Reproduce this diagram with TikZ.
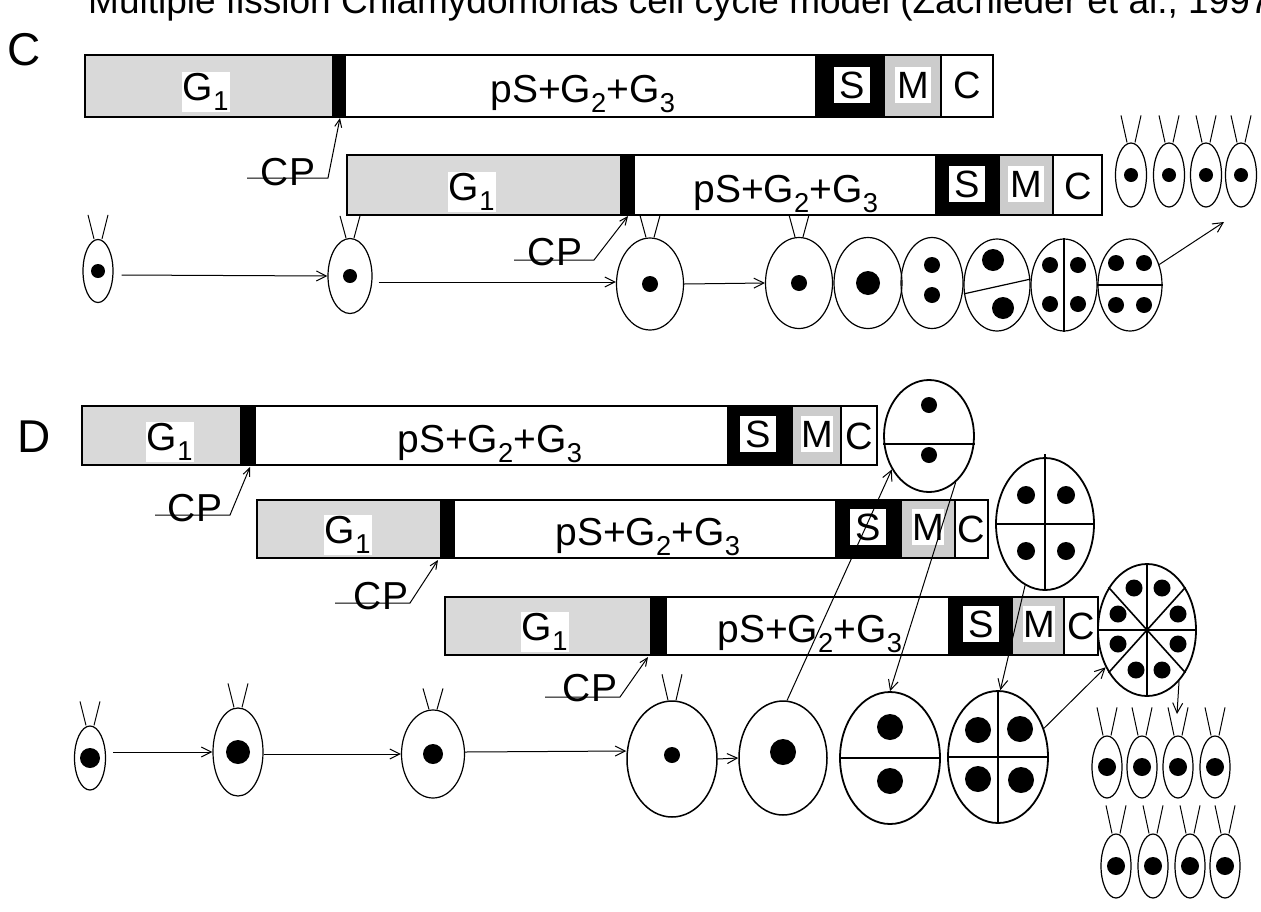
\documentclass[tikz,border=0pt]{standalone}
\usepackage{fontspec}
\setmainfont{Liberation Sans}
\usetikzlibrary{shapes.geometric,arrows.meta}
\newcommand\cycbar[9]{%
 \fill[gray!30] (#1,#8) rectangle (#2,#9);
 \fill[black] (#2,#8) rectangle (#3,#9);
 \fill[black] (#4,#8) rectangle (#5,#9);
 \fill[gray!40] (#5,#8) rectangle (#6,#9);
 \draw[line width=1.5pt] (#1,#8) rectangle (#7,#9);
 \draw[line width=1.3pt] (#6,#8) -- (#6,#9);
}
\newcommand\flagella[2]{%
 \draw[line width=1pt] ([xshift=-4pt]#1.north) -- ++(-6,-#2);
 \draw[line width=1pt] ([xshift=4pt]#1.north) -- ++(6,-#2);
}
\tikzset{
 lbl/.style={font=\fontsize{39}{39}\selectfont, inner sep=1pt, yshift=-6pt},
 phasebox/.style={font=\fontsize{38}{38}\selectfont, fill=white, inner sep=0pt, minimum width=36pt, minimum height=36pt},
 cell/.style={draw, ellipse, inner sep=0pt, line width=1.2pt},
 bigcell/.style={draw, ellipse, inner sep=0pt, line width=1.8pt},
 arr/.style={-{Straight Barb[length=10pt,width=10pt]}, line width=1pt},
 cpline/.style={-{Straight Barb[length=8pt,width=7pt]}, line width=1pt},
}
\begin{document}
\begin{tikzpicture}[x=1pt,y=-1pt]
\useasboundingbox (0,0) rectangle (1261,911);
\node[anchor=base west, font=\fontsize{37}{37}\selectfont, inner sep=0] (title) at (88,13) {Multiple fission Chlamydomonas cell cycle model (Zachleder et al., 1997)};
% ---------------- Panel C
\node[font=\fontsize{46}{46}\selectfont] (lc) at (24,50) {C};
\cycbar{85}{332}{346}{815}{885}{941}{993}{55}{117}
\node[lbl, fill=white] (c1g) at (206,86) {G\textsubscript{1}};
\node[lbl] (c1p) at (583,88) {pS+G\textsubscript{2}+G\textsubscript{3}};
\node[phasebox] (c1s) at (852,85) {S};
\node[phasebox] (c1m) at (913,85) {M};
\node[phasebox, fill=none] (c1c) at (967,85) {C};
\node[lbl] (c1cp) at (288,166) {CP};
\coordinate (c1a) at (247,178); \coordinate (c1b) at (328,178); \coordinate (c1t) at (340,118);
\draw[cpline] (c1a) -- (c1b) -- (c1t);

\cycbar{347}{620}{635}{935}{1000}{1053}{1102}{155}{215}
\node[lbl, fill=white] (c2g) at (472,186) {G\textsubscript{1}};
\node[lbl] (c2p) at (786,188) {pS+G\textsubscript{2}+G\textsubscript{3}};
\node[phasebox] (c2s) at (967,184) {S};
\node[phasebox] (c2m) at (1026,184) {M};
\node[phasebox, fill=none] (c2c) at (1078,186) {C};
\node[lbl] (c2cp) at (555,246) {CP};
\coordinate (c2a) at (514,260); \coordinate (c2b) at (594,260); \coordinate (c2t) at (628,216);
\draw[cpline] (c2a) -- (c2b) -- (c2t);

% cells C
\node[cell, minimum width=30pt, minimum height=63pt] (k1) at (98,271) {};
\node[cell, minimum width=44pt, minimum height=75pt] (k2) at (350,276) {};
\node[cell, minimum width=67pt, minimum height=92pt] (k3) at (650,284) {};
\node[cell, minimum width=67pt, minimum height=91pt] (k4) at (799,283) {};
\node[cell, minimum width=68pt, minimum height=91pt] (k5) at (868,283) {};
\node[cell, minimum width=62pt, minimum height=91pt] (k6) at (932,283) {};
\node[cell, minimum width=66pt, minimum height=92pt] (k7) at (997,285) {};
\node[cell, minimum width=66pt, minimum height=92pt] (k8) at (1064,285) {};
\node[cell, minimum width=64pt, minimum height=92pt] (k9) at (1130,285) {};
\flagella{k1}{24}\flagella{k2}{22}\flagella{k3}{22}\flagella{k4}{22}
\fill (k1.center) circle (7); \fill (k2.center) circle (7); \fill (k3.center) circle (8);
\fill (k4.center) circle (8); \fill (k5.center) circle (12);
\fill ([shift={(0,-18)}]k6.center) circle (8); \fill ([shift={(0,12)}]k6.center) circle (8);
\draw[line width=1.2pt] (k7.195) -- (k7.10);
\fill ([shift={(-4,-25)}]k7.center) circle (11); \fill ([shift={(6,23)}]k7.center) circle (11);
\draw[line width=1.2pt] (k8.north) -- (k8.south);
\foreach \dx/\dy in {-14/-20,14/-20,-14/19,14/19} \fill ([shift={(\dx,\dy)}]k8.center) circle (8);
\draw[line width=1.2pt] (k9.west) -- (k9.east);
\foreach \dx/\dy in {-14/-22,14/-22,-14/20,14/20} \fill ([shift={(\dx,\dy)}]k9.center) circle (8);
\draw[arr] ([xshift=8pt,yshift=-4pt]k1.east) -- (k2.west);
\draw[arr] ([xshift=6pt,yshift=-6pt]k2.east) -- ([yshift=2pt]k3.west);
\draw[arr] (k3.east) -- (k4.west);
\coordinate (ktip) at (1224,222);
\draw[arr] (k9.35) -- (ktip);
\foreach \n/\x in {1/1131,2/1169,3/1206,4/1241}{
 \node[cell, minimum width=31pt, minimum height=64pt] (q\n) at (\x,175) {};
 \flagella{q\n}{27}
 \fill (q\n.center) circle (7);
}

% ---------------- Panel D
\node[font=\fontsize{46}{46}\selectfont] (ld) at (34,437) {D};
\cycbar{82}{240}{256}{727}{793}{841}{877}{406}{465}
\node[lbl, fill=white] (d1g) at (170,436) {G\textsubscript{1}};
\node[lbl] (d1p) at (490,438) {pS+G\textsubscript{2}+G\textsubscript{3}};
\node[phasebox] (d1s) at (758,434) {S};
\node[phasebox, minimum width=30pt] (d1m) at (817,434) {M};
\node[phasebox, fill=none, minimum width=30pt] (d1c) at (859,436) {C};
\node[lbl] (d1cp) at (195,502) {CP};
\coordinate (d1a) at (155,515); \coordinate (d1b) at (230,515); \coordinate (d1t) at (250,467);
\draw[cpline] (d1a) -- (d1b) -- (d1t);

\cycbar{257}{440}{455}{835}{902}{955}{988}{500}{558}
\node[lbl, fill=white] (d2g) at (348,529) {G\textsubscript{1}};
\node[lbl] (d2p) at (648,531) {pS+G\textsubscript{2}+G\textsubscript{3}};
\node[phasebox] (d2s) at (868,527) {S};
\node[phasebox, minimum width=32pt] (d2m) at (928,527) {M};
\node[phasebox, fill=none, minimum width=30pt] (d2c) at (971,529) {C};
\node[lbl] (d2cp) at (381,590) {CP};
\coordinate (d2a) at (335,603); \coordinate (d2b) at (410,603); \coordinate (d2t) at (438,560);
\draw[cpline] (d2a) -- (d2b) -- (d2t);

\cycbar{445}{650}{667}{948}{1013}{1064}{1098}{597}{655}
\node[lbl, fill=white] (d3g) at (545,626) {G\textsubscript{1}};
\node[lbl] (d3p) at (810,628) {pS+G\textsubscript{2}+G\textsubscript{3}};
\node[phasebox] (d3s) at (981,624) {S};
\node[phasebox, minimum width=32pt] (d3m) at (1039,624) {M};
\node[phasebox, fill=none, minimum width=30pt] (d3c) at (1081,626) {C};
\node[lbl] (d3cp) at (590,682) {CP};
\coordinate (d3a) at (545,697); \coordinate (d3b) at (620,697); \coordinate (d3t) at (648,657);
\draw[cpline] (d3a) -- (d3b) -- (d3t);

% big cells D
\node[bigcell, minimum width=90pt, minimum height=112pt] (e2) at (929,436) {};
\draw[line width=1.6pt] ([yshift=-8pt]e2.west) -- ([yshift=-8pt]e2.east);
\fill ([shift={(0,-31)}]e2.center) circle (8); \fill ([shift={(0,19)}]e2.center) circle (8);
\node[bigcell, minimum width=98pt, minimum height=132pt] (e4) at (1045,524) {};
\draw[line width=1.6pt] ([yshift=3pt]e4.north) -- (e4.south);
\draw[line width=1.6pt] (e4.west) -- (e4.east);
\foreach \dx/\dy in {-19/-29,21/-29,-19/27,21/27} \fill ([shift={(\dx,\dy)}]e4.center) circle (9);
\node[bigcell, minimum width=98pt, minimum height=132pt] (e8) at (1147,630) {};
\draw[line width=1.6pt] (e8.north) -- (e8.south);
\draw[line width=1.6pt] (e8.west) -- (e8.east);
\draw[line width=1.6pt] (e8.48) -- (e8.228);
\draw[line width=1.6pt] (e8.132) -- (e8.312);
\foreach \dx/\dy in {-13/-42,15/-42,-29/-16,31/-16,-29/14,31/14,-11/40,15/40} \fill ([shift={(\dx,\dy)}]e8.center) circle (8.5);

\node[cell, minimum width=31pt, minimum height=64pt] (m1) at (90,758) {};
\node[cell, minimum width=50pt, minimum height=88pt] (m2) at (238,752) {};
\node[cell, minimum width=63pt, minimum height=88pt] (m3) at (433,754) {};
\node[bigcell, line width=1.5pt, minimum width=90pt, minimum height=116pt] (m4) at (672,759) {};
\node[bigcell, line width=1.5pt, minimum width=88pt, minimum height=114pt] (m5) at (783,758) {};
\node[bigcell, minimum width=100pt, minimum height=132pt] (m6) at (890,758) {};
\node[bigcell, minimum width=100pt, minimum height=132pt] (m7) at (998,757) {};
\flagella{m1}{24}\flagella{m2}{24}\flagella{m3}{21}\flagella{m4}{26}
\fill (m1.center) circle (10); \fill (m2.center) circle (12); \fill (m3.center) circle (10);
\fill ([yshift=4pt]m4.center) circle (8); \fill ([yshift=6pt]m5.center) circle (13);
\draw[line width=1.6pt] (m6.west) -- (m6.east);
\fill ([shift={(0,-31)}]m6.center) circle (13); \fill ([shift={(0,23)}]m6.center) circle (13);
\draw[line width=1.6pt] (m7.north) -- (m7.south);
\draw[line width=1.6pt] (m7.west) -- (m7.east);
\foreach \dx/\dy in {-20/-27,22/-28,-20/22,23/23} \fill ([shift={(\dx,\dy)}]m7.center) circle (13);
\draw[arr] ([xshift=7pt,yshift=6pt]m1.east) -- (m2.west);
\draw[arr] ([yshift=-2pt]m2.east) -- (m3.west);
\draw[arr] ([yshift=2pt]m3.east) -- ([yshift=8pt]m4.west);
\draw[arr] (m4.east) -- (m5.west);
\draw[arr] (m5.86) -- (e2.222);
\draw[arr] (e2.300) -- (m6.north);
\draw[arr] (e4.252) -- (m7.88);
\draw[arr] (m7.32) -- (e8.222);
\coordinate (stip) at (1177,714);
\draw[arr] (e8.302) -- (stip);
\foreach \n/\x in {1/1107,2/1142,3/1178,4/1215}{
 \node[cell, minimum width=30pt, minimum height=62pt] (s\n) at (\x,767) {};
 \flagella{s\n}{28}
 \fill (s\n.center) circle (9);
}
\foreach \n/\x in {5/1116,6/1153,7/1190,8/1225}{
 \node[cell, minimum width=30pt, minimum height=64pt] (s\n) at (\x,866) {};
 \flagella{s\n}{28}
 \fill (s\n.center) circle (9);
}
\end{tikzpicture}
\end{document}
